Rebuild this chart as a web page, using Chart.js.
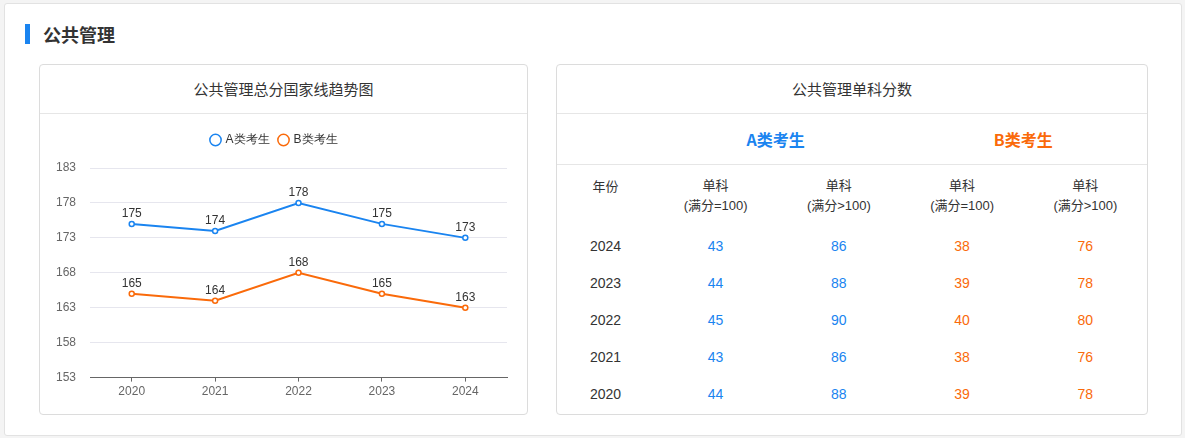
<!DOCTYPE html>
<html><head><meta charset="utf-8">
<script src="https://cdn.jsdelivr.net/npm/chart.js@4"></script>
<style>
body{margin:0;width:1185px;height:438px;background:#f4f4f4;font-family:"Noto Sans CJK SC","Noto Sans",sans-serif;}
.outer{position:absolute;left:4px;top:3px;width:1176px;height:431px;background:#fff;border:1px solid #e2e2e2;border-radius:3px;}
.ttl{position:absolute;left:20px;top:19px;font-size:18px;font-weight:bold;color:#333;padding-left:18px;line-height:22px;}
.ttl:before{content:"";position:absolute;left:0;top:1px;width:5px;height:20px;background:#1a84f0;}
.card{position:absolute;top:60px;height:349px;border:1px solid #dcdcdc;border-radius:4px;background:#fff;}
.hd{height:48px;line-height:48px;text-align:center;font-size:15px;color:#333;border-bottom:1px solid #e6e6e6;}
table{border-collapse:collapse;width:100%;font-size:14px;font-family:"Liberation Sans","Noto Sans CJK SC",sans-serif;}
td{text-align:center;color:#333;}
.a{color:#1a84f0}.b{color:#fa6a0a}
</style></head><body>
<div class="outer">
<div class="ttl">公共管理</div>
<div class="card" style="left:34px;width:487px;">
<div class="hd">公共管理总分国家线趋势图</div>
<div style="position:relative;width:487px;height:300px;"><canvas id="c"></canvas></div>
</div>
<div class="card" style="left:551px;width:590px;">
<div class="hd">公共管理单科分数</div>
<div style="display:flex;height:50px;border-bottom:1px solid #e6e6e6;font-size:16px;font-weight:bold;align-items:center;">
<div style="width:95px"></div><div class="a" style="flex:1;text-align:center">A类考生</div><div class="b" style="flex:1;text-align:center">B类考生</div></div>
<table id="t"></table>
</div>
</div>
<script>
const years=["2020","2021","2022","2023","2024"];
const totalA=[175,174,178,175,173];
const totalB=[165,164,168,165,163];
const tableYears=["2024","2023","2022","2021","2020"];
const a100=[43,44,45,43,44];
const aOver=[86,88,90,86,88];
const b100=[38,39,40,38,39];
const bOver=[76,78,80,76,78];
const t=document.getElementById('t');
let h='<tr style="height:62px;font-size:13px;line-height:20px"><td style="width:95px;vertical-align:top;padding-top:12px">年份</td><td>单科<br>(满分=100)</td><td>单科<br>(满分>100)</td><td>单科<br>(满分=100)</td><td>单科<br>(满分>100)</td></tr>';
tableYears.forEach((y,i)=>{h+=`<tr style="height:37px"><td>${y}</td><td class="a">${a100[i]}</td><td class="a">${aOver[i]}</td><td class="b">${b100[i]}</td><td class="b">${bOver[i]}</td></tr>`;});
t.innerHTML=h;
const lbl={id:'lbl',afterDatasetsDraw(ch){const c=ch.ctx;c.save();c.font='12px "Liberation Sans",sans-serif';c.fillStyle='#333';c.textAlign='center';
ch.data.datasets.forEach((d,i)=>{ch.getDatasetMeta(i).data.forEach((p,j)=>c.fillText(d.data[j],p.x,p.y-10));});c.restore();}};
const lm={id:'lm',beforeInit(ch){const f=ch.legend.fit;ch.legend.fit=function(){f.bind(ch.legend)();this.height+=12;};}};
new Chart(document.getElementById('c'),{type:'line',data:{labels:years,datasets:[
{label:'A类考生',data:totalA,borderColor:'#1a84f0',backgroundColor:'#fff',borderWidth:2,pointRadius:2.5,pointBorderWidth:1.5,tension:0},
{label:'B类考生',data:totalB,borderColor:'#fa6a0a',backgroundColor:'#fff',borderWidth:2,pointRadius:2.5,pointBorderWidth:1.5,tension:0}]},
plugins:[lbl,lm],
options:{responsive:true,maintainAspectRatio:false,animation:false,layout:{padding:{left:2,right:20,top:10,bottom:12}},
plugins:{legend:{labels:{usePointStyle:true,pointStyle:'circle',boxWidth:8,boxHeight:8,font:{size:12},color:'#333',padding:10}},tooltip:{enabled:false}},
scales:{x:{offset:true,grid:{display:true,drawOnChartArea:false,drawTicks:true,tickLength:4,color:'#666'},border:{color:'#666'},ticks:{color:'#666',font:{size:12}}},
y:{min:153,max:183,ticks:{stepSize:5,color:'#666',font:{size:12},padding:14},grid:{color:'#e6e6ee',drawTicks:false},border:{display:false}}}}});
</script>
</body></html>
